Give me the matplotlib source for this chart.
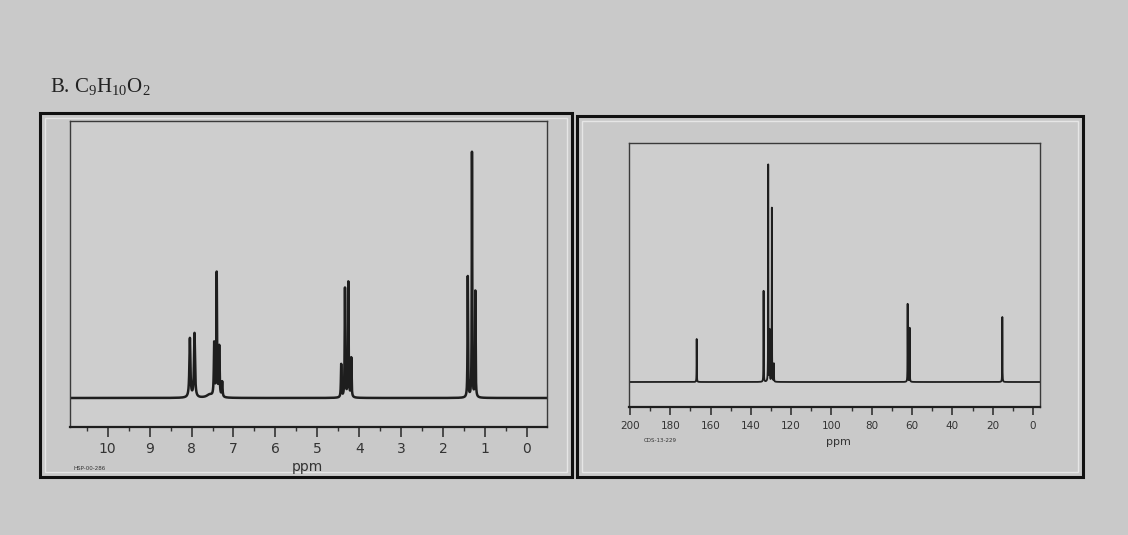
import numpy as np
import matplotlib
matplotlib.use("Agg")
import matplotlib.pyplot as plt
from matplotlib.patches import Rectangle

plt.rcParams["mathtext.fontset"] = "custom"
plt.rcParams["mathtext.rm"] = "Liberation Serif"

# 1H peaks (ppm, height in plot units)
h_ppm = [8.04, 7.93, 7.57, 7.46, 7.40, 7.34, 7.27, 4.43, 4.34, 4.26, 4.19, 1.41, 1.31, 1.23]
h_height = [59, 64, 3, 53, 123, 50, 15, 33, 109, 115, 39, 121, 245, 106]
h_width = [0.014, 0.014, 0.08, 0.010, 0.008, 0.010, 0.010, 0.008, 0.008, 0.008, 0.008, 0.007, 0.006, 0.007]
h_ticks = [10, 9, 8, 7, 6, 5, 4, 3, 2, 1, 0]

# 13C peaks (ppm, height)
c_ppm = [166.9, 133.7, 131.4, 130.7, 129.6, 128.6, 62.2, 61.2, 15.2]
c_height = [43, 91, 217, 51, 174, 18, 78, 54, 65]
c_ticks = [200, 180, 160, 140, 120, 100, 80, 60, 40, 20, 0]

BG = "#c9c9c9"
PLOT_BG = "#cecece"
INK = "#1e1e1e"


def spectrum(x, ppm, height, width):
    y = np.zeros_like(x)
    for p, h, w in zip(ppm, height, width):
        y += h / (1 + ((x - p) / w) ** 2)
    return y


def style_axes(ax, fs):
    ax.set_facecolor(PLOT_BG)
    for s in ax.spines.values():
        s.set_color("#3a3a3a")
        s.set_linewidth(1.0)
    ax.spines["bottom"].set_linewidth(1.6)
    ax.spines["bottom"].set_color(INK)
    ax.set_yticks([])
    ax.tick_params(axis="x", which="major", direction="out", length=7, width=1.2,
                   colors="#333333", labelsize=fs, pad=4)
    ax.tick_params(axis="x", which="minor", direction="out", length=3, width=1.0,
                   colors="#333333")


fig = plt.figure(figsize=(11.28, 5.35), dpi=100)
fig.patch.set_facecolor(BG)


def px_rect(x0, y0, x1, y1, **kw):
    r = Rectangle((x0 / 1128, 1 - y1 / 535), (x1 - x0) / 1128, (y1 - y0) / 535,
                  transform=fig.transFigure, fill=False, **kw)
    fig.add_artist(r)


# outer panel boxes
px_rect(40, 113, 572, 477, lw=2.2, edgecolor="#111111")
px_rect(577, 116, 1083, 477, lw=2.2, edgecolor="#111111")
px_rect(45, 118, 567, 472, lw=1.0, edgecolor="#e6e6e6")
px_rect(582, 121, 1078, 472, lw=1.0, edgecolor="#e6e6e6")

fig.text(50 / 1128, 1 - 92 / 535, r"B. C$_\mathrm{9}$H$_\mathrm{10}$O$_\mathrm{2}$",
         family="Liberation Serif", fontsize=15, color="#222222", va="baseline")

# 1H NMR
ax1 = fig.add_axes([70 / 1128, 1 - 427 / 535, 477 / 1128, 306 / 535])
x1 = np.linspace(10.9, -0.48, 30000)
y1 = spectrum(x1, h_ppm, h_height, h_width)
ax1.plot(x1, y1, color=INK, lw=1.8)
ax1.set_xlim(10.9, -0.48)
ax1.set_ylim(-29, 277)
ax1.set_xticks(h_ticks)
ax1.set_xticks(np.arange(0.5, 10.6, 1.0), minor=True)
style_axes(ax1, 10)
fig.text(307 / 1128, 1 - 467 / 535, "ppm", fontsize=10, color="#333333",
         ha="center", va="center")
fig.text(90 / 1128, 1 - 468 / 535, "HSP-00-286", fontsize=4, color="#333333",
         ha="center", va="center")

# 13C NMR
ax2 = fig.add_axes([629 / 1128, 1 - 407 / 535, 411 / 1128, 264 / 535])
x2 = np.linspace(200.5, -3.5, 60000)
y2 = spectrum(x2, c_ppm, c_height, [0.06] * len(c_ppm))
ax2.plot(x2, y2, color=INK, lw=1.3)
ax2.set_xlim(200.5, -3.5)
ax2.set_ylim(-25, 239)
ax2.set_xticks(c_ticks)
ax2.set_xticks(np.arange(10, 200, 20), minor=True)
style_axes(ax2, 7.5)
ax2.tick_params(axis="x", which="major", length=6)
fig.text(838 / 1128, 1 - 442 / 535, "ppm", fontsize=8, color="#333333",
         ha="center", va="center")
fig.text(660 / 1128, 1 - 441 / 535, "CDS-13-229", fontsize=4, color="#333333",
         ha="center", va="center")

fig.savefig("out.png", dpi=100, facecolor=fig.get_facecolor())
